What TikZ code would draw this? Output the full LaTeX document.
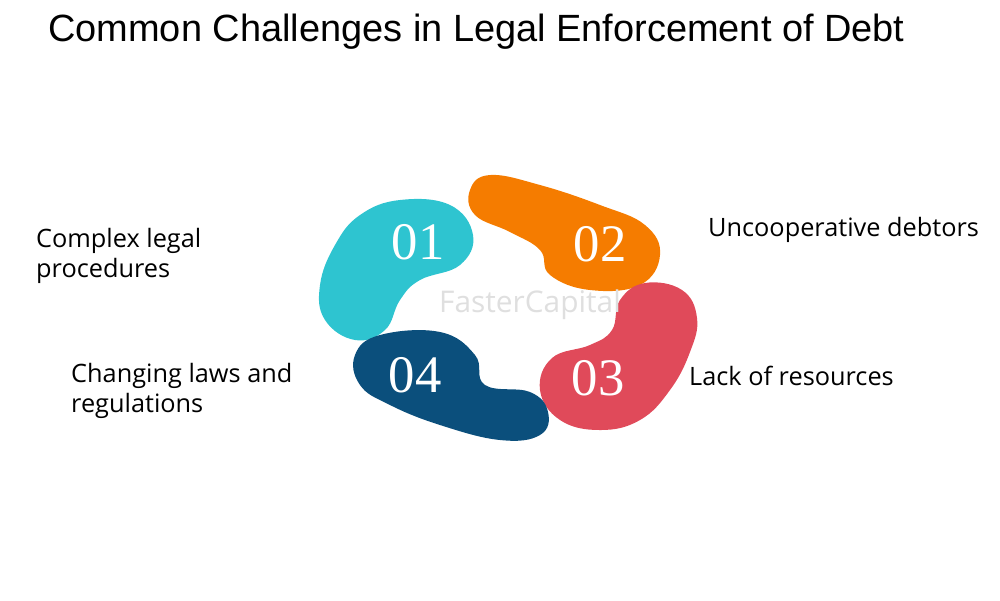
\documentclass[tikz,border=0pt]{standalone}
\usepackage{fontspec}
\setmainfont{Open Sans}
\newfontfamily\titlefont{Liberation Sans}
\newfontfamily\numfont{Liberation Serif}
\usetikzlibrary{positioning}
\definecolor{cyanblob}{HTML}{2EC4D0}
\definecolor{orangeblob}{HTML}{F57C00}
\definecolor{redblob}{HTML}{E04A5A}
\definecolor{navyblob}{HTML}{0B4F7C}
\begin{document}
\begin{tikzpicture}[x=0.02cm, y=-0.02cm,
    num/.style={font=\numfont\fontsize{30}{30}\selectfont, text=white},
    label/.style={font=\fontsize{14.4}{17.5}\selectfont, align=left, anchor=west}
]
    \useasboundingbox (0,0) rectangle (1000,600);
    % title
    \node[font=\titlefont\fontsize{21.6}{24}\selectfont, anchor=west] (title) at (42,32) {Common Challenges in Legal Enforcement of Debt};
    % blobs
    \fill[cyanblob] plot[smooth cycle, tension=0.7] coordinates {(400,200) (450,205) (473,235) (460,265) (420,280) (400,300) (385,330) (355,340) (325,320) (320,285) (335,245) (360,215)};
    \fill[orangeblob] plot[smooth cycle, tension=0.7] coordinates {(490,175) (540,185) (600,205) (645,225) (660,255) (640,285) (590,290) (550,275) (540,250) (510,232) (475,215) (470,190)};
    \fill[redblob] plot[smooth cycle, tension=0.7] coordinates {(645,283) (682,290) (697,318) (690,352) (670,390) (640,420) (600,430) (560,420) (540,390) (552,358) (590,345) (612,330) (620,300)};
    \fill[navyblob] plot[smooth cycle, tension=0.7] coordinates {(380,335) (440,332) (475,355) (485,385) (530,392) (548,412) (540,435) (500,440) (440,425) (390,405) (360,385) (355,355)};
    % watermark
    \node[font=\fontsize{17}{17}\selectfont, text=gray!25] (mark) at (530,305) {FasterCapital};
    % numbers
    \node[num] (n1) at (418,242) {01};
    \node[num] (n2) at (600,244) {02};
    \node[num] (n3) at (598,378) {03};
    \node[num] (n4) at (415,375) {04};
    % labels
    \node[label] (l1) at (30,256) {Complex legal\\procedures};
    \node[label] (l2) at (702,230) {Uncooperative debtors};
    \node[label] (l3) at (683,376) {Lack of resources};
    \node[label] (l4) at (65,391) {Changing laws and\\regulations};
\end{tikzpicture}
\end{document}
